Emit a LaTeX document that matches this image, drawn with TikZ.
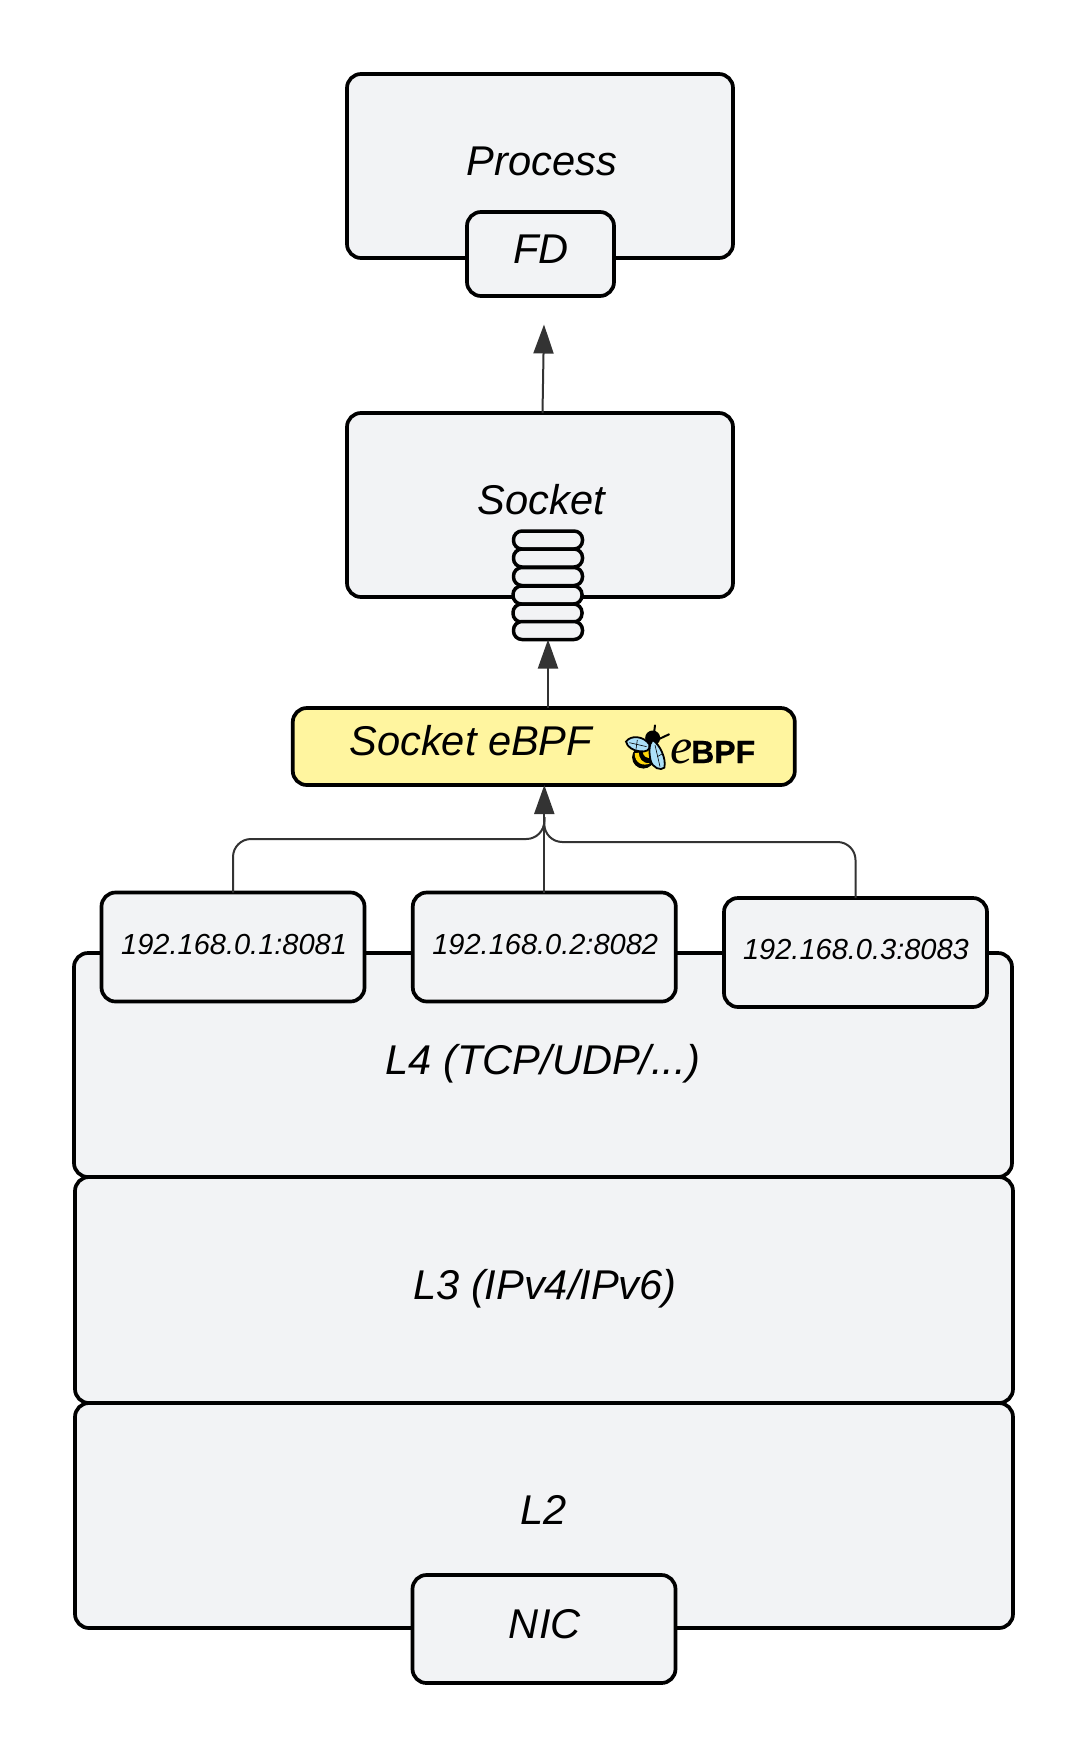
\documentclass[tikz,border=0pt]{standalone}
\usepackage{fontspec}
\setmainfont{Liberation Sans}
\newfontfamily\logoe{Liberation Serif}
\newfontfamily\logob[BoldFeatures={FakeBold=0.6}]{Liberation Sans}
\usetikzlibrary{arrows.meta,calc}
\definecolor{boxfill}{HTML}{F2F3F5}
\definecolor{bpffill}{HTML}{FFF59F}
\definecolor{linkgray}{HTML}{333333}
\definecolor{wingblue}{HTML}{ACE0F8}
\definecolor{beeyellow}{HTML}{FFD60A}
\newcommand{\bt}[3]{\raisebox{#2pt}[0pt][0pt]{\makebox[0pt]{\hspace*{#1pt}#3}}}
\tikzset{
  shapebox/.style={draw=black,line width=3.7pt,rounded corners=14pt,fill=boxfill,inner sep=0pt,outer sep=0pt,font=\fontsize{41.6}{48}\selectfont\itshape},
  ipbox/.style={shapebox,minimum width=263pt,minimum height=109pt,font=\fontsize{29}{34}\selectfont\itshape},
  queueitem/.style={shapebox,line width=3.5pt,minimum width=69pt,minimum height=18pt,rounded corners=8.5pt},
  link/.style={draw=linkgray,line width=2pt},
  tiplink/.style={link,-{Triangle[length=29pt,width=20pt,fill=linkgray]}},
}
\begin{document}
\begin{tikzpicture}[x=1pt,y=-1pt]
\useasboundingbox (0,0) rectangle (1089,1759);
\fill[white] (0,0) rectangle (1089,1759);

% Layers
\node[shapebox,minimum width=938pt,minimum height=224pt] (l4) at (543,1065) {\bt{-0.4}{-9}{L4 (TCP/UDP/...)}};
\node[shapebox,minimum width=938pt,minimum height=226pt] (l3) at (544,1290) {\bt{2}{-9}{L3 (IPv4/IPv6)}};
\node[shapebox,minimum width=938pt,minimum height=225pt] (l2) at (544,1515.5) {\bt{-0.6}{-9}{L2}};
\node[shapebox,minimum width=263pt,minimum height=108pt] (nic) at (544,1629) {\bt{1.6}{-9.7}{NIC}};

% Ports
\node[ipbox] (ip1) at (233,947) {\bt{2.2}{-7}{192.168.0.1:8081}};
\node[ipbox] (ip2) at (544.3,947) {\bt{1.8}{-7}{192.168.0.2:8082}};
\node[ipbox] (ip3) at (855.5,952.5) {\bt{1}{-7.3}{192.168.0.3:8083}};

% Process
\node[shapebox,minimum width=386pt,minimum height=184pt] (process) at (540,166) {\bt{4}{-9.5}{Process}};
\node[shapebox,minimum width=147pt,minimum height=84pt] (fd) at (540.5,254) {\bt{1}{-9.7}{FD}};

% Socket
\node[shapebox,minimum width=386pt,minimum height=184pt] (socket) at (540,505) {\bt{3}{-9.5}{Socket}};
\node[queueitem] (q1) at (548,540) {};
\node[queueitem] (q2) at (548,558) {};
\node[queueitem] (q3) at (548,576.5) {};
\node[queueitem] (q4) at (547.5,595) {};
\node[queueitem] (q5) at (547.5,613) {};
\node[queueitem] (q6) at (548,630.5) {};

% eBPF
\node[shapebox,fill=bpffill,minimum width=502pt,minimum height=77pt] (ebpf) at (543.8,746.5) {\bt{-146}{-9}{Socket eBPF}};
\node[inner sep=0pt,anchor=base west,font=\logoe\itshape\fontsize{50}{54}\selectfont] (logoe) at (670,763) {e};
\node[inner sep=0pt,anchor=base west,font=\logob\bfseries\fontsize{32}{36}\selectfont] (logobpf) at (691,763) {BPF};

% Bee
\begin{scope}[shift={(600,700)},x=0.3333pt,y=-0.3333pt]
  \draw[black,line width=2pt,line cap=round] (162,100) -- (165,76);
  \draw[black,line width=2pt,line cap=round] (175,118) -- (207,103);
  \fill[black] (158,114) circle[radius=7.5pt];
  \filldraw[fill=black,draw=black,line width=1pt] (130,172) circle[radius=10.7pt];
  \fill[beeyellow] (104,160) .. controls (104,190) and (130,200) .. (150,190) .. controls (125,190) and (118,175) .. (116,158) -- cycle;
  \fill[beeyellow] (128,155) .. controls (130,168) and (138,174) .. (150,174) -- (150,150) -- cycle;
  \filldraw[fill=wingblue,draw=black,line width=1.8pt] (78,125) .. controls (92,104) and (132,108) .. (148,133) .. controls (152,152) and (137,156) .. (120,154) .. controls (100,152) and (82,142) .. cycle;
  \filldraw[fill=wingblue,draw=black,line width=1.8pt] (158,120) .. controls (178,132) and (200,175) .. (193,203) .. controls (182,213) and (158,204) .. (152,182) .. controls (147,160) and (146,133) .. cycle;
  \draw[black,line width=0.6pt] (88,128) -- (140,140) (112,120) -- (108,148);
  \draw[black,line width=0.6pt] (165,135) -- (180,200) (172,170) -- (186,162);
\end{scope}

% Connectors
\coordinate (fdgap) at (544,324.5);
\coordinate (merge) at (544.3,817);
\draw[tiplink] ($(socket.north)+(2.5,0)$) -- (fdgap);
\draw[tiplink] (ebpf.north -| q6.south) -- (q6.south);
\draw[tiplink] (ip2.north) -- (ip2.north |- ebpf.south);
\draw[link,rounded corners=18pt] (ip1.north) -- (233,839) -- (544.3,839) -- (merge);
\draw[link,rounded corners=18pt] (ip3.north) -- (855.5,842) -- (544.3,842) -- (merge);
\end{tikzpicture}
\end{document}
